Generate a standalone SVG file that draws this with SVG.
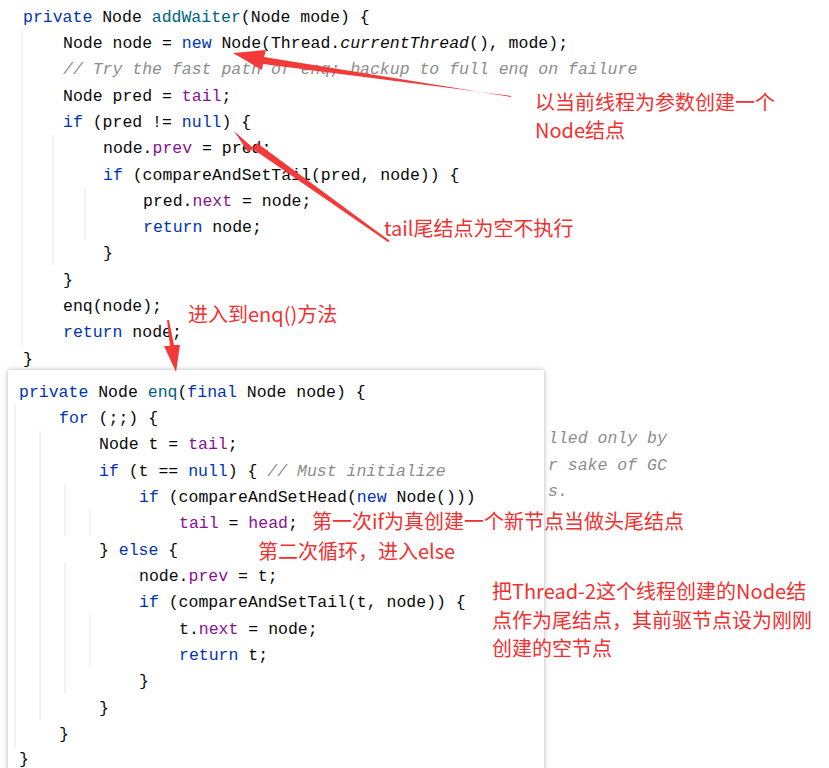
<svg xmlns="http://www.w3.org/2000/svg" width="829" height="768" viewBox="0 0 829 768">
<defs>
<style>
.c{font-family:"Liberation Mono","DejaVu Sans Mono",monospace;font-size:16.5px;fill:#080808;white-space:pre}
.k{fill:#0033B3}.f{fill:#871094}.m{fill:#00627A}.i{font-style:italic}.g{fill:#8C8C8C;font-style:italic}
.r{font-family:"Noto Sans CJK SC","Noto Sans",sans-serif;font-size:20px;fill:#F23030}
.ind{stroke:#E6E6E6;stroke-width:1}
</style>
<filter id="sh" x="-5%" y="-5%" width="110%" height="110%"><feDropShadow dx="0" dy="0" stdDeviation="2.5" flood-color="#000" flood-opacity="0.3"/></filter>
</defs>
<rect width="829" height="768" fill="#fff"/>
<g id="code1">
<text class="c" x="23" y="22"><tspan class="k">private</tspan> Node <tspan class="m">addWaiter</tspan>(Node mode) {</text>
<text class="c" x="63" y="48">Node node = <tspan class="k">new</tspan> Node(Thread.<tspan class="i">currentThread</tspan>(), mode);</text>
<text class="c g" x="63" y="74">// Try the fast path of enq; backup to full enq on failure</text>
<text class="c" x="63" y="101">Node pred = <tspan class="f">tail</tspan>;</text>
<text class="c" x="63" y="127"><tspan class="k">if</tspan> (pred != <tspan class="k">null</tspan>) {</text>
<text class="c" x="103" y="153">node.<tspan class="f">prev</tspan> = pred;</text>
<text class="c" x="103" y="180"><tspan class="k">if</tspan> (compareAndSetTail(pred, node)) {</text>
<text class="c" x="143" y="206">pred.<tspan class="f">next</tspan> = node;</text>
<text class="c" x="143" y="232"><tspan class="k">return</tspan> node;</text>
<text class="c" x="103" y="258">}</text>
<text class="c" x="63" y="285">}</text>
<text class="c" x="63" y="311">enq(node);</text>
<text class="c" x="63" y="337"><tspan class="k">return</tspan> node;</text>
<text class="c" x="23" y="364">}</text>
<line class="ind" x1="22" y1="30" x2="22" y2="345"/>
<line class="ind" x1="53" y1="135" x2="53" y2="265"/>
<line class="ind" x1="85" y1="188" x2="85" y2="240"/>
<text class="c g" x="548" y="443">lled only by</text>
<text class="c g" x="548" y="470">r sake of GC</text>
<text class="c g" x="548" y="496">s.</text>
</g>
<g id="code2">
<rect x="8" y="370" width="536" height="410" fill="#fff" filter="url(#sh)"/>
<text class="c" x="19" y="397"><tspan class="k">private</tspan> Node <tspan class="m">enq</tspan>(<tspan class="k">final</tspan> Node node) {</text>
<text class="c" x="59" y="423"><tspan class="k">for</tspan> (;;) {</text>
<text class="c" x="99" y="449">Node t = <tspan class="f">tail</tspan>;</text>
<text class="c" x="99" y="476"><tspan class="k">if</tspan> (t == <tspan class="k">null</tspan>) { <tspan class="g">// Must initialize</tspan></text>
<text class="c" x="139" y="502"><tspan class="k">if</tspan> (compareAndSetHead(<tspan class="k">new</tspan> Node()))</text>
<text class="c" x="179" y="528"><tspan class="f">tail</tspan> = <tspan class="f">head</tspan>;</text>
<text class="c" x="99" y="555">} <tspan class="k">else</tspan> {</text>
<text class="c" x="139" y="581">node.<tspan class="f">prev</tspan> = t;</text>
<text class="c" x="139" y="607"><tspan class="k">if</tspan> (compareAndSetTail(t, node)) {</text>
<text class="c" x="179" y="634">t.<tspan class="f">next</tspan> = node;</text>
<text class="c" x="179" y="660"><tspan class="k">return</tspan> t;</text>
<text class="c" x="139" y="686">}</text>
<text class="c" x="99" y="713">}</text>
<text class="c" x="59" y="739">}</text>
<text class="c" x="19" y="764">}</text>
<line class="ind" x1="15" y1="405" x2="15" y2="747"/>
<line class="ind" x1="40" y1="431" x2="40" y2="720"/>
<line class="ind" x1="65" y1="484" x2="65" y2="535"/>
<line class="ind" x1="90" y1="510" x2="90" y2="535"/>
<line class="ind" x1="65" y1="563" x2="65" y2="693"/>
<line class="ind" x1="90" y1="615" x2="90" y2="667"/>
</g>
<g id="connectors" fill="#F23A3A">
<polygon points="511,96 263,64 262,70 233,53 266,50 264,57 511,97"/>
<polygon points="390,241 257,143 253,148 234,131 248,152 253,149 388,242"/>
<polygon points="167,320 170,346 164,346 176,372 180,345 174,345 169,320"/>
</g>
<g id="labels">
<text class="r" x="535" y="110">以当前线程为参数创建一个</text>
<text class="r" x="535" y="138">Node结点</text>
<text class="r" x="384" y="236">tail尾结点为空不执行</text>
<text class="r" x="188" y="322">进入到enq()方法</text>
<text class="r" x="312" y="529">第一次if为真创建一个新节点当做头尾结点</text>
<text class="r" x="258" y="559">第二次循环，进入else</text>
<text class="r" x="492" y="599">把Thread-2这个线程创建的Node结</text>
<text class="r" x="492" y="628">点作为尾结点，其前驱节点设为刚刚</text>
<text class="r" x="492" y="656">创建的空节点</text>
</g>
</svg>
